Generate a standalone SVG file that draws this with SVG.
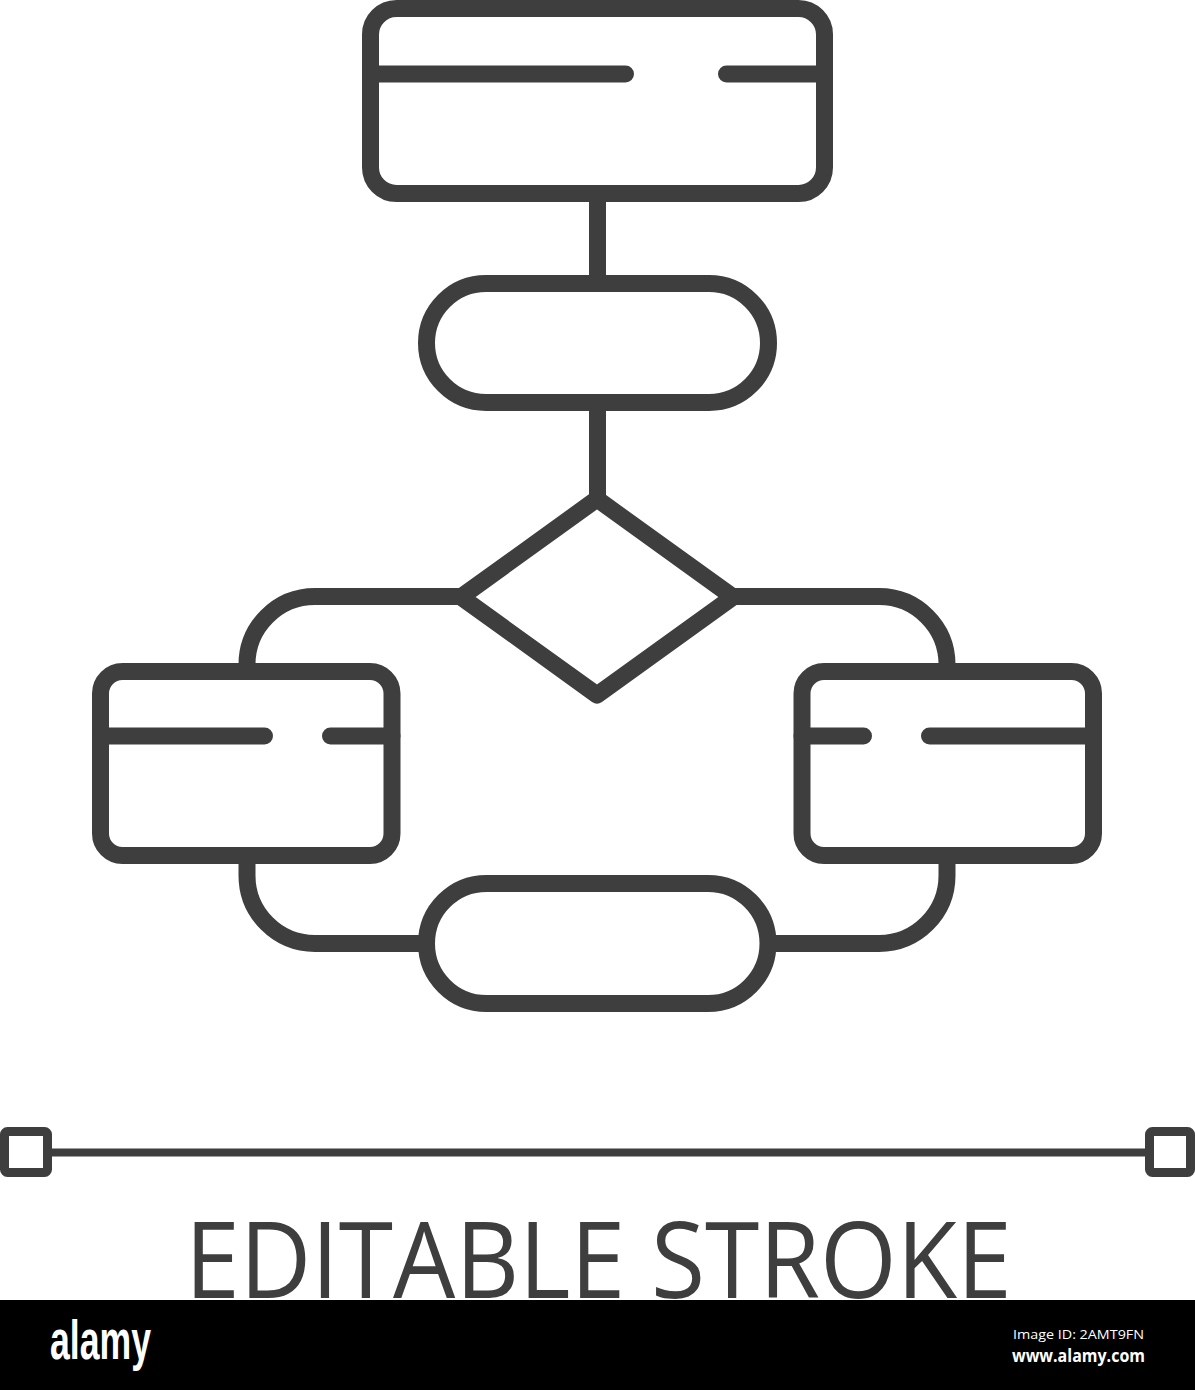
<svg xmlns="http://www.w3.org/2000/svg" width="1195" height="1390" viewBox="0 0 1195 1390">
<style>
.s{fill:none;stroke:#3e3e3e;stroke-width:17;stroke-linecap:round;stroke-linejoin:round}
.c{fill:none;stroke:#3e3e3e;stroke-width:17;stroke-linecap:butt}
.t{font-family:"Open Sans","Liberation Sans",sans-serif;fill:#3e3e3e}
.w{font-family:"Open Sans","Liberation Sans",sans-serif;fill:#ffffff}
</style>
<rect x="0" y="0" width="1195" height="1390" fill="#ffffff"/>
<g id="connectors">
<path class="c" d="M597.5 193.5 V283.5"/>
<path class="c" d="M597.5 402.5 V499"/>
<path class="c" d="M461 596.5 H315 A68 68 0 0 0 247 664.5 V671.5"/>
<path class="c" d="M733 596.5 H879 A68 68 0 0 1 947 664.5 V671.5"/>
<path class="c" d="M247 855.5 V875.5 A68 68 0 0 0 315 943.5 H426.5"/>
<path class="c" d="M947 855.5 V875.5 A68 68 0 0 1 879 943.5 H768"/>
</g>
<g id="top-box">
<rect class="s" x="370.5" y="8.5" width="454" height="185" rx="26" ry="26"/>
<path class="s" d="M370.5 74 H625.5 M726.5 74 H824.5"/>
</g>
<g id="top-pill">
<rect class="s" x="426.5" y="283.5" width="342" height="119" rx="59.5" ry="59.5"/>
</g>
<g id="decision">
<path class="s" d="M597 499 L733 597 L597 695 L461 597 Z"/>
</g>
<g id="left-box">
<rect class="s" x="100.5" y="671.5" width="291.5" height="184" rx="22" ry="22"/>
<path class="s" d="M100.5 736 H264.5 M330.5 736 H392"/>
</g>
<g id="right-box">
<rect class="s" x="802" y="671.5" width="291.5" height="184" rx="22" ry="22"/>
<path class="s" d="M802 736 H863.5 M929.5 736 H1093.5"/>
</g>
<g id="bottom-pill">
<rect class="s" x="426.5" y="883.5" width="341.5" height="120" rx="60" ry="60"/>
</g>
<g id="editable-stroke">
<line x1="47" y1="1152.5" x2="1150" y2="1152.5" stroke="#3e3e3e" stroke-width="8"/>
<rect x="4.5" y="1131.5" width="43" height="41" rx="3" fill="#ffffff" stroke="#3e3e3e" stroke-width="9"/>
<rect x="1149.5" y="1131.5" width="41" height="41" rx="3" fill="#ffffff" stroke="#3e3e3e" stroke-width="9"/>
<text class="t" transform="translate(185 1298) scale(0.927 1)" x="0" y="0" font-size="106" textLength="892" lengthAdjust="spacingAndGlyphs">EDITABLE STROKE</text>
</g>
<g id="footer">
<rect x="0" y="1300" width="1195" height="90" fill="#000000"/>
<text class="w" x="50" y="1359" font-size="56" font-weight="bold" textLength="101" lengthAdjust="spacingAndGlyphs" style="font-family:'Liberation Sans',sans-serif">alamy</text>
<text class="w" x="1013" y="1339" font-size="13" textLength="131" lengthAdjust="spacingAndGlyphs">Image ID: 2AMT9FN</text>
<text class="w" x="1012" y="1362" font-size="17" font-weight="bold" textLength="133" lengthAdjust="spacingAndGlyphs">www.alamy.com</text>
</g>
</svg>
